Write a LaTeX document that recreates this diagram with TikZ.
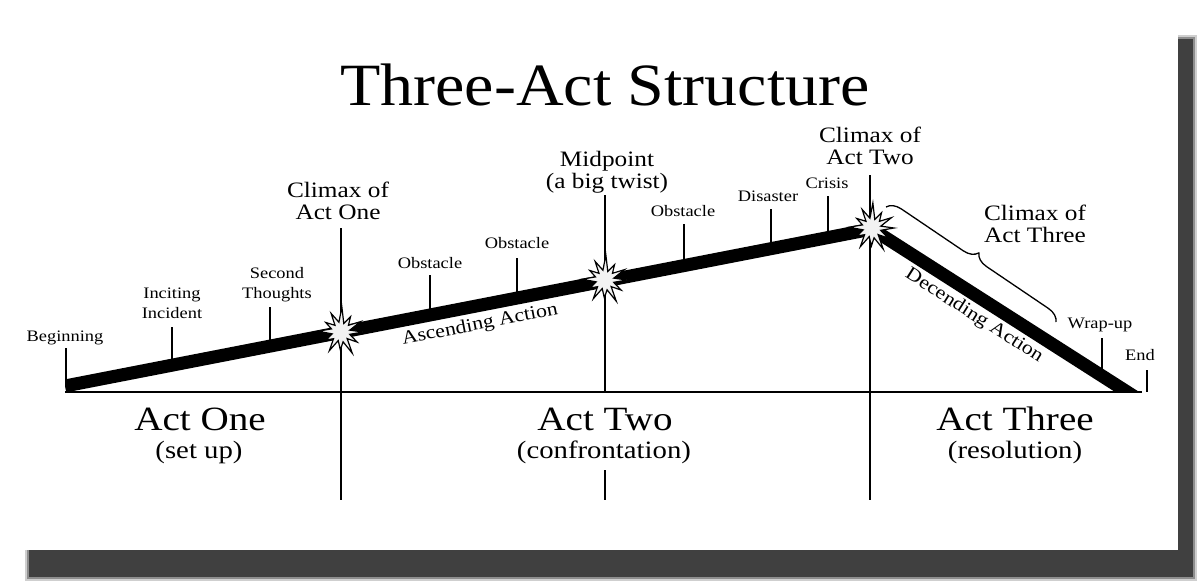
\documentclass[tikz,border=0pt]{standalone}
\usepackage{fontspec}
\setmainfont{Liberation Serif}[FakeStretch=1.15]
\newfontfamily\titlefont{Liberation Serif}[FakeStretch=1.1]
\usetikzlibrary{decorations.pathreplacing}
\definecolor{shadowgray}{HTML}{404040}
\definecolor{burstgray}{HTML}{F2F2F2}
\begin{document}
\begin{tikzpicture}[x=1pt,y=-1pt,
  axisline/.style={line width=2pt},
  tickline/.style={line width=2pt},
  bandline/.style={line width=13pt, line join=miter},
  burstline/.style={fill=burstgray, draw=black, line width=1.2pt, line join=miter},
  lblS/.style={font=\fontsize{16}{20}\selectfont, inner sep=0pt, align=center, anchor=base},
  lblA/.style={font=\fontsize{19}{22}\selectfont, inner sep=0pt},
  lblM/.style={font=\fontsize{22}{22}\selectfont, inner sep=0pt, align=center, anchor=base},
  lblL/.style={font=\fontsize{34}{36}\selectfont, inner sep=0pt, anchor=base},
  lblP/.style={font=\fontsize{25}{28}\selectfont, inner sep=0pt, anchor=base},
  burst/.pic={\filldraw[burstline] (0:22)--(15:9)--(32:19)--(47:9)--(62:24)--(78:10)--(92:18)--(108:9)--(122:22)--(138:10)--(152:17)--(168:9)--(182:23)--(198:10)--(212:18)--(228:9)--(242:21)--(258:10)--(272:25)--(288:9)--(302:18)--(318:10)--(332:22)--(348:9)--cycle;}
]
\useasboundingbox (0,0) rectangle (1200,587);
\fill[white] (0,0) rectangle (1200,587);
% shadow (soft edge)
\fill[shadowgray, opacity=0.25] (25,35) rectangle (1197,581);
\fill[shadowgray, opacity=0.45] (27,37) rectangle (1195,579);
\fill[shadowgray] (29,39) rectangle (1193,577);
% card
\fill[white] (0,0) rectangle (1178,550);

% coordinates
\coordinate (o0) at (65,392);
\coordinate (o1) at (1142,392);
\coordinate (b0) at (65,386);
\coordinate (pk) at (872,229);
\coordinate (bend) at (1146,404);
\coordinate (s1) at (341,332);
\coordinate (s2) at (605,280);
\coordinate (s3) at (872,228);
\coordinate (v1t) at (341,228); \coordinate (v1b) at (341,500);
\coordinate (v2t) at (605,195); \coordinate (v2m) at (605,392);
\coordinate (v2n) at (605,470); \coordinate (v2b) at (605,500);
\coordinate (v3t) at (870,175); \coordinate (v3b) at (870,500);

% baseline and verticals
\draw[axisline] (o0) -- (o1);
\draw[axisline] (v1t) -- (v1b);
\draw[axisline] (v2t) -- (v2m);
\draw[axisline] (v2n) -- (v2b);
\draw[axisline] (v3t) -- (v3b);

% band
\begin{scope}
\clip (65,0) rectangle (1200,392);
\draw[bandline] (b0) -- (pk) -- (bend);
\end{scope}

% ticks
\coordinate (t1a) at (66,348);  \coordinate (t1b) at (66,386);
\coordinate (t2a) at (172,327); \coordinate (t2b) at (172,365);
\coordinate (t3a) at (270,307); \coordinate (t3b) at (270,346);
\coordinate (t4a) at (430,275); \coordinate (t4b) at (430,315);
\coordinate (t5a) at (517,258); \coordinate (t5b) at (517,298);
\coordinate (t6a) at (684,224); \coordinate (t6b) at (684,265);
\coordinate (t7a) at (771,209); \coordinate (t7b) at (771,248);
\coordinate (t8a) at (828,196); \coordinate (t8b) at (828,237);
\coordinate (t9a) at (1102,338); \coordinate (t9b) at (1102,375);
\coordinate (t10a) at (1147,370); \coordinate (t10b) at (1147,392);
\foreach \i in {1,...,10} {\draw[tickline] (t\i a) -- (t\i b);}

% bursts
\pic at (s1) {burst};
\pic at (s2) {burst};
\pic at (s3) {burst};

% brace
\coordinate (br1) at (886,207);
\coordinate (br2) at (1056,322);
\draw[decorate, decoration={brace, amplitude=14pt, aspect=0.5}, line width=1.3pt] (br1) -- (br2);

% title
\node[inner sep=0pt, anchor=base, font=\titlefont\fontsize{60}{64}\selectfont] (title) at (605,105) {Three-Act Structure};

% small labels (anchor = baseline of last line)
\node[lblS] (lbeg) at (65,341) {Beginning};
\node[lblS] (linc) at (172,318) {Inciting\\Incident};
\node[lblS] (lsec) at (277,298) {Second\\Thoughts};
\node[lblS] (lob1) at (430,268) {Obstacle};
\node[lblS] (lob2) at (517,248) {Obstacle};
\node[lblS] (lob3) at (683,216) {Obstacle};
\node[lblS] (ldis) at (768,201) {Disaster};
\node[lblS] (lcri) at (827,188) {Crisis};
\node[lblS] (lwrap) at (1100,328) {Wrap-up};
\node[lblS] (lend) at (1140,360) {End};

% medium labels
\node[lblM] (lc1) at (338,219) {Climax of\\Act One};
\node[lblM] (lmid) at (607,188) {Midpoint\\(a big twist)};
\node[lblM] (lc2) at (870,164) {Climax of\\Act Two};
\node[lblM] (lc3) at (1035,242) {Climax of\\Act Three};

% action labels
\node[lblA, rotate=11] (lasc) at (480,325) {Ascending Action};
\node[lblA, rotate=-32.5] (ldes) at (974,316) {Decending Action};

% act labels
\node[lblL] (a1) at (200,430) {Act One};
\node[lblP] (a1s) at (199,458) {(set up)};
\node[lblL] (a2) at (605,430) {Act Two};
\node[lblP] (a2s) at (604,458) {(confrontation)};
\node[lblL] (a3) at (1015,430) {Act Three};
\node[lblP] (a3s) at (1015,458) {(resolution)};
\end{tikzpicture}
\end{document}
